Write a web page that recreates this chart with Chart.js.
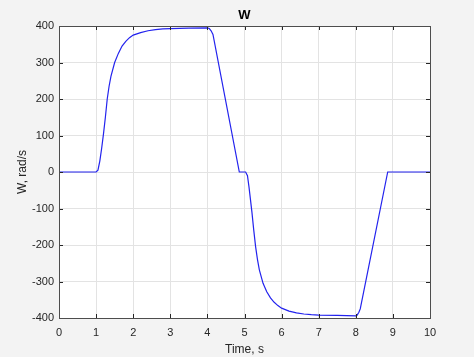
<!DOCTYPE html>
<html><head><meta charset="utf-8">
<script src="https://cdn.jsdelivr.net/npm/chart.js@4/dist/chart.umd.min.js"></script>
<style>html,body{margin:0;padding:0;background:#f3f3f3;}#wrap{width:474px;height:357px;}</style>
</head><body><div id="wrap"><canvas id="c" width="474" height="357"></canvas></div>
<script>
const timeValues = [0, 1.0, 1.05, 1.1, 1.15, 1.2, 1.25, 1.3, 1.35, 1.4, 1.5, 1.6, 1.7, 1.8, 1.9, 2.0, 2.2, 2.4, 2.6, 2.8, 3.0, 3.5, 4.0, 4.05, 4.1, 4.15, 4.86, 4.9, 5.03, 5.08, 5.12, 5.16, 5.2, 5.25, 5.3, 5.35, 5.4, 5.5, 5.6, 5.7, 5.8, 5.9, 6.0, 6.2, 6.4, 6.6, 6.8, 7.0, 7.5, 8.0, 8.03, 8.08, 8.12, 8.86, 10];
const wValues = [0, 0, 5, 30, 65, 105, 150, 200, 235, 262, 300, 325, 345, 358, 368, 375, 382, 387, 390, 392, 393, 394, 395, 393, 387, 377, 0, 0, 0, -10, -40, -75, -110, -160, -205, -240, -268, -305, -328, -345, -357, -366, -373, -381, -386, -389, -391, -392, -393, -394, -393, -385, -375, 0, 0];
const xTicks = [0,1,2,3,4,5,6,7,8,9,10];
const yTicks = [-400,-300,-200,-100,0,100,200,300,400];
const titleText = 'W';

const points = timeValues.map((t,i)=>({x:t,y:wValues[i]}));
const FONT = "'Liberation Sans', Arial, sans-serif";
const bg = {id:'bg',beforeDraw(ch){const c=ch.ctx;c.save();c.fillStyle='#f3f3f3';c.fillRect(0,0,ch.width,ch.height);const a=ch.chartArea;c.fillStyle='#ffffff';c.fillRect(a.left,a.top,a.right-a.left,a.bottom-a.top);c.restore();}};
const box = {id:'box',afterDraw(ch){const c=ch.ctx,a=ch.chartArea,xs=ch.scales.x,ys=ch.scales.y;c.save();c.strokeStyle='#262626';c.lineWidth=1;
 c.beginPath();
 xTicks.forEach(v=>{const px=Math.round(xs.getPixelForValue(v))+0.5;c.moveTo(px,a.bottom);c.lineTo(px,a.bottom-4);c.moveTo(px,a.top);c.lineTo(px,a.top+4);});
 yTicks.forEach(v=>{const py=Math.round(ys.getPixelForValue(v))+0.5;c.moveTo(a.left,py);c.lineTo(a.left+4,py);c.moveTo(a.right,py);c.lineTo(a.right-4,py);});
 c.stroke();
 c.strokeStyle='#4d4d4d';
 c.strokeRect(Math.round(a.left)+0.5,Math.round(a.top)+0.5,Math.round(a.right-a.left),Math.round(a.bottom-a.top));
 c.fillStyle='#000';c.font='bold 13px '+FONT;c.textAlign='center';c.textBaseline='middle';
 c.fillText(titleText,(a.left+a.right)/2,15);
 c.restore();}};
new Chart(document.getElementById('c'),{
 type:'line',
 data:{datasets:[{data:points,borderColor:'#2323ee',borderWidth:1.2,pointRadius:0,tension:0,fill:false}]},
 options:{responsive:false,animation:false,devicePixelRatio:1,
  layout:{padding:{left:0,right:44,top:26,bottom:0}},
  plugins:{legend:{display:false},tooltip:{enabled:false},title:{display:false}},
  scales:{
   x:{type:'linear',min:0,max:10,
    afterBuildTicks(s){s.ticks=xTicks.map(v=>({value:v}));},
    afterFit(s){s.height=39;},
    grid:{color:'#e3e3e3',drawTicks:false},border:{display:false},
    ticks:{color:'#262626',font:{family:FONT,size:11},padding:8,maxRotation:0},
    title:{display:true,text:'Time, s',color:'#262626',font:{family:FONT,size:12},padding:{top:0,bottom:0}}},
   y:{type:'linear',min:-400,max:400,
    afterBuildTicks(s){s.ticks=yTicks.map(v=>({value:v}));},
    afterFit(s){s.width=59;},
    grid:{color:'#e3e3e3',drawTicks:false},border:{display:false},
    ticks:{color:'#262626',font:{family:FONT,size:11},padding:5},
    title:{display:true,text:'W, rad/s',color:'#262626',font:{family:FONT,size:12},padding:{top:15,bottom:0}}}
  }},
 plugins:[bg,box]
});
</script></body></html>
